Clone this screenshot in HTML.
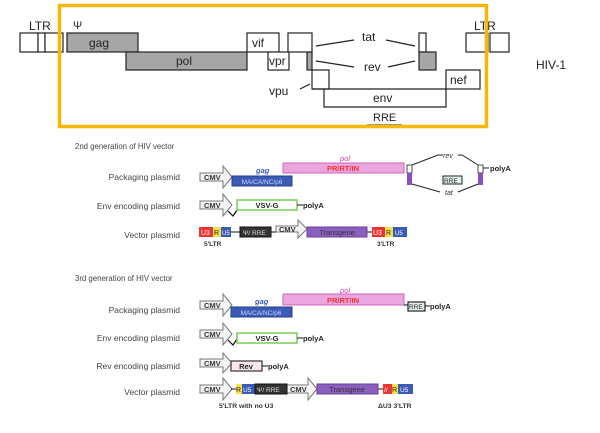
<!DOCTYPE html>
<html><head><meta charset="utf-8"><style>
html,body{margin:0;padding:0;background:#fff;}
svg{display:block;font-family:"Liberation Sans",Arial,sans-serif;}
</style></head><body>
<svg width="600" height="433" viewBox="0 0 600 433" xmlns="http://www.w3.org/2000/svg">
<!-- Top HIV genome -->
<g stroke="#222" stroke-width="1.2" fill="#fff">
<rect x="20" y="33" width="18" height="19"/><rect x="38" y="33" width="7" height="19"/><rect x="45" y="33" width="18" height="19"/>
<rect x="67" y="33" width="71" height="19" fill="#a6a6a6"/>
<rect x="126" y="52" width="121" height="18" fill="#a6a6a6"/>
<rect x="247" y="33" width="32" height="19"/>
<rect x="268" y="52" width="21" height="18"/>
<rect x="288" y="33" width="24" height="19"/>
<rect x="307" y="52" width="5" height="18" fill="#a6a6a6"/>
<rect x="312" y="70" width="17" height="19"/>
<polyline points="324,89 324,107 446,107 446,89 312,89" fill="none"/>
<rect x="446" y="70" width="34" height="19"/>
<rect x="419" y="33" width="7" height="19"/>
<rect x="419" y="52" width="17" height="18" fill="#a6a6a6"/>
<rect x="466" y="33" width="22" height="19"/><rect x="490" y="33" width="19" height="19"/>
<line x1="316" y1="46" x2="354" y2="40"/><line x1="386" y1="40" x2="415" y2="46"/>
<line x1="316" y1="61" x2="354" y2="67"/><line x1="388" y1="67" x2="415" y2="61"/>
<line x1="300" y1="89" x2="310" y2="84"/>
<line x1="367" y1="125" x2="402" y2="125"/>
</g>
<g font-size="12" fill="#222">
<text x="29" y="30">LTR</text><text x="474" y="30">LTR</text>
<text x="73" y="29" font-size="11">Ψ</text>
<text x="89" y="47">gag</text><text x="176" y="65">pol</text>
<text x="252" y="47">vif</text><text x="269" y="65">vpr</text>
<text x="362" y="41">tat</text><text x="364" y="71">rev</text>
<text x="269" y="95">vpu</text><text x="373" y="102">env</text>
<text x="450" y="84">nef</text><text x="373" y="121" font-size="11">RRE</text>
<text x="536" y="69">HIV-1</text>
</g>
<rect x="59.5" y="5.5" width="427" height="121" fill="none" stroke="#f6b60a" stroke-width="3.5"/>

<g font-size="8.5" fill="#444">
<text x="75" y="149" font-size="7.8">2nd generation of HIV vector</text>
<text x="180" y="180" text-anchor="end">Packaging plasmid</text>
<text x="180" y="209" text-anchor="end">Env encoding plasmid</text>
<text x="180" y="238" text-anchor="end">Vector plasmid</text>
<text x="75" y="281" font-size="7.8">3rd generation of HIV vector</text>
<text x="180" y="313" text-anchor="end">Packaging plasmid</text>
<text x="180" y="341" text-anchor="end">Env encoding plasmid</text>
<text x="180" y="369" text-anchor="end">Rev encoding plasmid</text>
<text x="180" y="395" text-anchor="end">Vector plasmid</text>
</g>

<g stroke="#777" stroke-width="1" fill="#f4f4f4">
<path d="M200,173 h23 v-7 l9,11 l-9,11 v-7 h-23z"/>
<path d="M200,201 h23 v-7 l9,11 l-9,11 v-7 h-23z"/>
<path d="M276,226 h22 v-6 l9,9 l-9,9 v-6 h-22z"/>
<path d="M200,301 h23 v-7 l9,11 l-9,11 v-7 h-23z"/>
<path d="M200,330 h23 v-7 l9,11 l-9,11 v-7 h-23z"/>
<path d="M200,359 h23 v-6 l9,10 l-9,10 v-6 h-23z"/>
<path d="M200,385 h23 v-7 l9,11 l-9,11 v-7 h-23z"/>
<path d="M287,385 h21 v-7 l9,11 l-9,11 v-7 h-21z"/>
</g>
<g font-size="7.5" font-weight="bold" fill="#333">
<text x="204" y="180">CMV</text><text x="204" y="208">CMV</text><text x="279" y="232">CMV</text>
<text x="204" y="308">CMV</text><text x="204" y="337">CMV</text><text x="204" y="366">CMV</text>
<text x="204" y="392">CMV</text><text x="290" y="392">CMV</text>
</g>

<!-- 2nd gen packaging -->
<rect x="283" y="163" width="121" height="10" fill="#eaa6de" stroke="#cc66bb"/>
<text x="343" y="171" font-size="7.5" font-weight="bold" fill="#ee3333" text-anchor="middle">PR/RT/IN</text>
<text x="340" y="161" font-size="7.5" font-style="italic" fill="#cc44aa">pol</text>
<rect x="232" y="176" width="60" height="10" fill="#3b5bb5" stroke="#233f8f"/>
<text x="262" y="184" font-size="6.5" fill="#c8d4ff" text-anchor="middle">MA/CA/NC/p6</text>
<text x="256" y="173" font-size="7.5" font-style="italic" font-weight="bold" fill="#3b5bb5">gag</text>
<g stroke="#222" stroke-width="1" fill="none">
<polyline points="412,165 438,155 443,155"/><polyline points="458,155 462,155 478,165"/>
<polyline points="412,184 440,192"/><polyline points="458,192 478,184"/>
<line x1="483" y1="168" x2="489" y2="168"/>
</g>
<rect x="407" y="165" width="5" height="8" fill="#fff" stroke="#222" stroke-width="0.8"/>
<rect x="407" y="173" width="5" height="12" fill="#8a4fc0"/>
<rect x="478" y="165" width="5" height="8" fill="#fff" stroke="#222" stroke-width="0.8"/>
<rect x="478" y="173" width="5" height="12" fill="#8a4fc0"/>
<text x="443" y="158" font-size="7" font-style="italic" fill="#333">rev</text>
<text x="445" y="195" font-size="7" font-style="italic" fill="#333">tat</text>
<rect x="443" y="176" width="19" height="8" fill="#dff0ea" stroke="#222"/>
<text x="444" y="183" font-size="6.5" fill="#222">RRE</text>
<text x="490" y="171" font-size="7.5" font-weight="bold" fill="#222">polyA</text>

<!-- 2nd gen env -->
<polyline points="228,211 233,216 237,210" fill="none" stroke="#111" stroke-width="1.2"/>
<rect x="237" y="200" width="60" height="10" fill="#fff" stroke="#77cc55" stroke-width="1.5"/>
<text x="267" y="208" font-size="7.5" font-weight="bold" fill="#222" text-anchor="middle">VSV-G</text>
<line x1="297" y1="205" x2="303" y2="205" stroke="#111"/>
<text x="303" y="208" font-size="7.5" font-weight="bold" fill="#222">polyA</text>

<!-- 2nd gen vector -->
<line x1="231" y1="232" x2="276" y2="232" stroke="#111"/>
<line x1="367" y1="232" x2="372" y2="232" stroke="#111"/>
<rect x="199" y="227" width="14" height="10" fill="#ee3333"/><text x="201" y="235" font-size="7" fill="#fff">U3</text>
<rect x="213" y="227" width="8" height="10" fill="#f3e04a"/><text x="214" y="235" font-size="7" fill="#222">R</text>
<rect x="221" y="227" width="10" height="10" fill="#3b5bb5"/><text x="222" y="235" font-size="6" fill="#fff">U5</text>
<rect x="240" y="227" width="31" height="10" fill="#333" stroke="#111"/><text x="243" y="235" font-size="6.5" fill="#ddd">Ψ/ RRE</text>
<rect x="307" y="227" width="60" height="10" fill="#8a5fbf" stroke="#6a3f9f"/>
<text x="337" y="235" font-size="7.5" fill="#333" text-anchor="middle">Transgene</text>
<rect x="372" y="227" width="13" height="10" fill="#ee3333"/><text x="373" y="235" font-size="7" fill="#fff">U3</text>
<rect x="385" y="227" width="8" height="10" fill="#f3e04a"/><text x="386" y="235" font-size="7" fill="#222">R</text>
<rect x="393" y="227" width="14" height="10" fill="#3b5bb5"/><text x="395" y="235" font-size="6" fill="#fff">U5</text>
<text x="204" y="246" font-size="6.5" font-weight="bold" fill="#333">5'LTR</text>
<text x="377" y="246" font-size="6.5" font-weight="bold" fill="#333">3'LTR</text>

<!-- 3rd gen packaging -->
<rect x="283" y="294" width="121" height="11" fill="#eaa6de" stroke="#cc66bb"/>
<text x="343" y="303" font-size="7.5" font-weight="bold" fill="#ee3333" text-anchor="middle">PR/RT/IN</text>
<text x="340" y="293" font-size="7.5" font-style="italic" fill="#cc44aa">pol</text>
<rect x="231" y="307" width="61" height="10" fill="#3b5bb5" stroke="#233f8f"/>
<text x="261" y="315" font-size="6.5" fill="#c8d4ff" text-anchor="middle">MA/CA/NC/p6</text>
<text x="255" y="304" font-size="7.5" font-style="italic" font-weight="bold" fill="#3b5bb5">gag</text>
<line x1="404" y1="305" x2="408" y2="305" stroke="#111"/>
<rect x="408" y="302" width="17" height="9" fill="#dff0ea" stroke="#222" stroke-width="1.2"/>
<text x="409" y="309" font-size="6.5" fill="#222">RRE</text>
<line x1="425" y1="306" x2="430" y2="306" stroke="#111"/>
<text x="430" y="309" font-size="7.5" font-weight="bold" fill="#222">polyA</text>

<!-- 3rd env -->
<polyline points="228,340 233,345 237,339" fill="none" stroke="#111" stroke-width="1.2"/>
<rect x="237" y="333" width="60" height="10" fill="#fff" stroke="#77cc55" stroke-width="1.5"/>
<text x="267" y="341" font-size="7.5" font-weight="bold" fill="#222" text-anchor="middle">VSV-G</text>
<line x1="297" y1="338" x2="303" y2="338" stroke="#111"/>
<text x="303" y="341" font-size="7.5" font-weight="bold" fill="#222">polyA</text>

<!-- 3rd rev -->
<rect x="231" y="361" width="31" height="10" fill="#fbe6f0" stroke="#333" stroke-width="1.2"/>
<text x="246" y="369" font-size="7.5" font-weight="bold" fill="#222" text-anchor="middle">Rev</text>
<line x1="262" y1="366" x2="268" y2="366" stroke="#111"/>
<text x="268" y="369" font-size="7.5" font-weight="bold" fill="#222">polyA</text>

<!-- 3rd vector -->
<line x1="231" y1="389" x2="236" y2="389" stroke="#111"/>
<line x1="378" y1="389" x2="383" y2="389" stroke="#111"/>
<rect x="236" y="384" width="6" height="10" fill="#f3e04a"/><text x="236" y="392" font-size="7" fill="#222">R</text>
<rect x="242" y="384" width="13" height="10" fill="#3b5bb5"/><text x="243" y="392" font-size="6.5" fill="#fff">U5</text>
<rect x="255" y="384" width="32" height="10" fill="#333" stroke="#111"/><text x="257" y="392" font-size="6.5" fill="#ddd">Ψ/ RRE</text>
<rect x="317" y="384" width="61" height="10" fill="#8a5fbf" stroke="#6a3f9f"/>
<text x="347" y="392" font-size="7.5" fill="#333" text-anchor="middle">Transgene</text>
<rect x="383" y="384" width="9" height="10" fill="#ee3333"/><text x="384" y="392" font-size="6.5" fill="#fff">//</text>
<rect x="392" y="384" width="6" height="10" fill="#f3e04a"/><text x="392" y="392" font-size="7" fill="#222">R</text>
<rect x="398" y="384" width="15" height="10" fill="#3b5bb5"/><text x="400" y="392" font-size="6.5" fill="#fff">U5</text>
<text x="219" y="408" font-size="6.8" font-weight="bold" fill="#333">5'LTR with no U3</text>
<text x="378" y="408" font-size="6.8" font-weight="bold" fill="#333">ΔU3 3'LTR</text>
</svg>
</body></html>
